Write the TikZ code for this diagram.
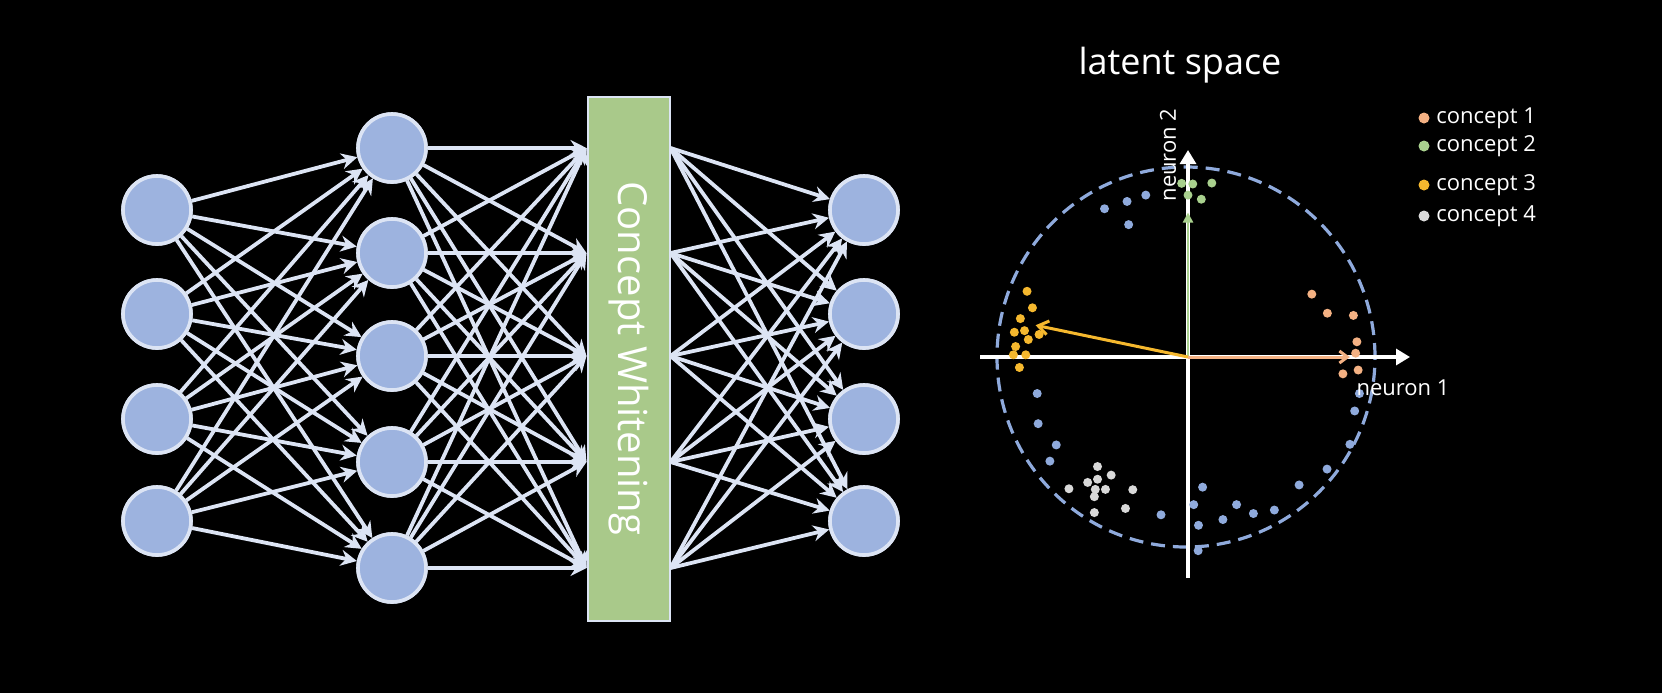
\documentclass[tikz,border=0pt]{standalone}
\usepackage{fontspec}
\setmainfont{Open Sans}
\usetikzlibrary{arrows.meta}
\definecolor{nodeblue}{HTML}{9DB3DF}
\definecolor{rim}{HTML}{DCE4F4}
\definecolor{cwgreen}{HTML}{A9C98A}
\definecolor{cor}{HTML}{F4B183}
\definecolor{cgr}{HTML}{A9D18E}
\definecolor{cye}{HTML}{F5B82E}
\definecolor{cgy}{HTML}{D9D9D9}
\definecolor{cbl}{HTML}{8FAADC}
\tikzset{
 neuron/.style={circle,fill=nodeblue,draw=rim,line width=1.8pt,minimum size=34pt,inner sep=0pt},
 wire/.style={draw=rim,line width=1.9pt},
 wirearr/.style={wire,-{Stealth[length=8pt,width=8pt]}},
 dot/.style={circle,inner sep=0pt,minimum size=4.5pt},
 lbl/.style={text=white,font=\fontsize{11}{13}\selectfont}
}
\begin{document}
\begin{tikzpicture}[x=0.5pt,y=-0.5pt]
\fill[black] (0,0) rectangle (1662,693);
\useasboundingbox (0,0) rectangle (1662,693);
% layers
\foreach \i/\y in {1/210,2/314,3/419,4/521} \node[neuron] (a\i) at (157,\y) {};
\foreach \i/\y in {1/148,2/253,3/356,4/462,5/568} \node[neuron] (b\i) at (392,\y) {};
\foreach \i/\y in {1/210,2/314,3/419,4/521} \node[neuron] (c\i) at (864,\y) {};
\node[draw=rim,line width=1pt,fill=cwgreen,minimum width=41pt,minimum height=262pt,inner sep=0pt] (cw) at (628.5,358.5) {};
\node[rotate=-90,text=white,font=\fontsize{20}{24}\selectfont] (cwt) at (cw.center) {Concept Whitening};
\foreach \i/\y in {1/148,2/253,3/356,4/462,5/568} {
  \coordinate (L\i) at (cw.west |- 0,\y);
  \coordinate (R\i) at (cw.east |- 0,\y);
}
\foreach \i in {1,...,4} \foreach \j in {1,...,5} \draw[wirearr] (a\i) -- (b\j);
\foreach \i in {1,...,5} \foreach \j in {1,...,5} \draw[wirearr] (b\i) -- (L\j);
\foreach \i in {1,...,5} \foreach \j in {1,...,4} \draw[wirearr] (R\i) -- (c\j);
\foreach \i in {1,...,4} \node[neuron] at (a\i) {};
\foreach \i in {1,...,5} \node[neuron] at (b\i) {};
\foreach \i in {1,...,4} \node[neuron] at (c\i) {};
% latent space
\node[text=white,font=\fontsize{18}{22}\selectfont] (title) at (1180,65) {latent space};
\coordinate (O) at (1188,357);
\draw[cbl,line width=1.6pt,dash pattern=on 7pt off 4pt] (1186,357) ellipse (94.5pt and 95pt);
\coordinate (xs) at (980,357); \coordinate (xe) at (1410,357);
\coordinate (ys) at (1188,578); \coordinate (ye) at (1188,150);
\draw[white,line width=1.6pt,-{Triangle[length=7pt,width=8pt]}] (xs) -- (xe);
\draw[white,line width=1.6pt,-{Triangle[length=7pt,width=8pt]}] (ys) -- (ye);
\begin{scope}[shift={(1188,357)},x=0.5pt/3.15,y=-0.5pt/3.15]
\coordinate (gE) at (0,{380-835});
\coordinate (yE) at ({360-840},{735-835});
\coordinate (oE) at ({1350-840},0);
\foreach \a/\b in {820/288,855/290,915/287,840/325,882/338} \node[dot,fill=cgr] at ({\a-840},{\b-835}) {};
\foreach \a/\b in {577/368,648/345,707/325,653/418,365/950,368/1045,425/1112,405/1163,755/1332,886/1245,858/1300,873/1365,872/1445,950/1347,993/1300,1046/1328,1112/1317,1190/1238,1278/1188,1350/1110,1365/1005,1380/950} \node[dot,fill=cbl] at ({\a-840},{\b-835}) {};
\foreach \a/\b in {333/628,350/680,312/714,293/757,325/752,371/764,337/780,297/802,290/828,329/828,309/868} \node[dot,fill=cye] at ({\a-840},{\b-835}) {};
\foreach \a/\b in {1230/637,1279/697,1361/704,1372/787,1368/823,1328/888,1376/876} \node[dot,fill=cor] at ({\a-840},{\b-835}) {};
\foreach \a/\b in {555/1180,598/1207,555/1220,524/1230,465/1250,548/1252,580/1252,666/1253,545/1275,643/1312,545/1325} \node[dot,fill=cgy] at ({\a-840},{\b-835}) {};
\end{scope}
\draw[cgr,line width=1.2pt,-{Triangle[length=5pt,width=5pt]}] (O) -- (gE);
\draw[cye,line width=1.5pt,-{Straight Barb[length=5pt,width=7pt]}] (O) -- (yE);
\draw[cor,line width=1.5pt,-{Straight Barb[length=4pt,width=6pt]}] (O) -- (oE);
\node[lbl,rotate=90] (n2) at (1168,155) {neuron 2};
\node[lbl] (n1) at (1403,388) {neuron 1};
% legend
\foreach \c/\y/\t in {cor/118/concept 1,cgr/146/concept 2,cye/185/concept 3,cgy/216/concept 4} {
  \node[dot,fill=\c,minimum size=5.5pt] (d\y) at (1424,\y) {};
  \node[lbl,anchor=west,inner sep=0pt] at (1436,\y) {\t};
}
\end{tikzpicture}
\end{document}
